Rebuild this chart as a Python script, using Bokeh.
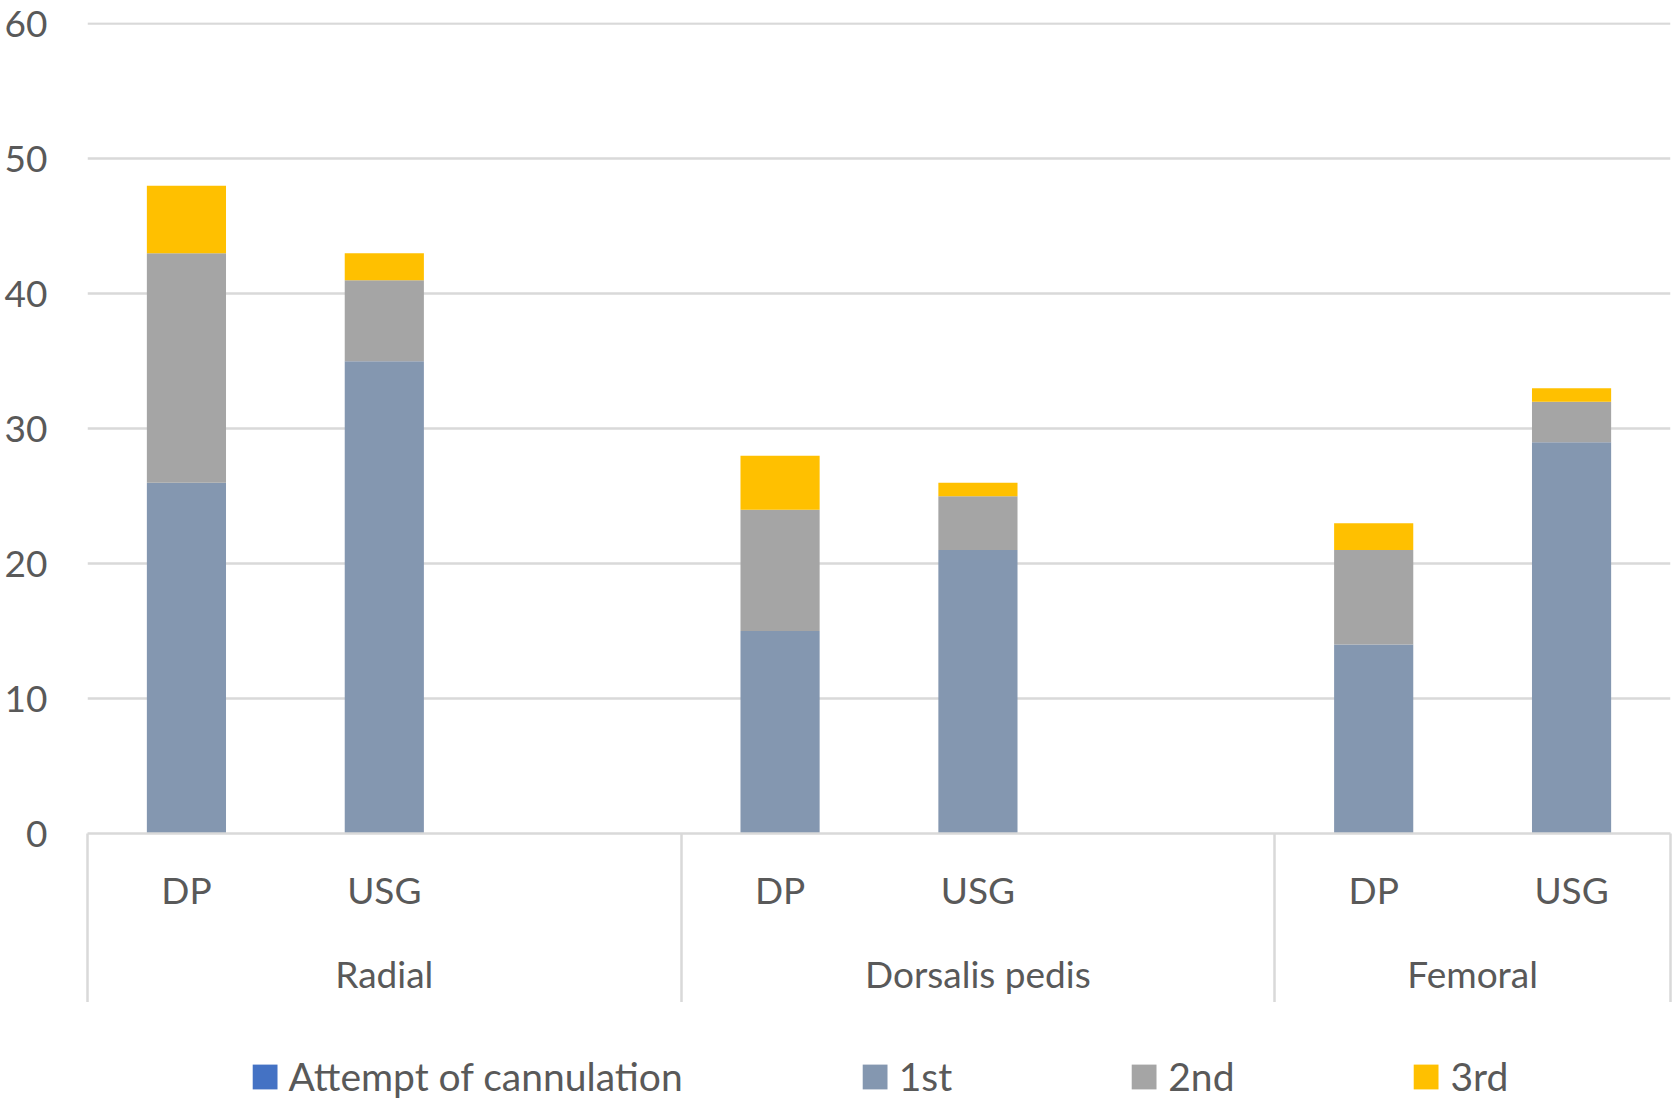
from bokeh.plotting import figure
from bokeh.layouts import column
from bokeh.models import Range1d, LinearAxis, FixedTicker, Legend, LegendItem, ColumnDataSource
from bokeh.embed import file_html
from bokeh.resources import INLINE

# ---- data ----
groups = ["Radial", "Dorsalis pedis", "Femoral"]
group_slots = [3, 3, 2]          # category slots per group (Excel left one blank slot in first two)
methods = ["DP", "USG"]
first_attempt = [26, 35, 15, 21, 14, 29]
second_attempt = [17, 6, 9, 4, 7, 3]
third_attempt = [5, 2, 4, 1, 2, 1]
y_ticks = [0, 10, 20, 30, 40, 50, 60]
series_names = ["Attempt of cannulation", "1st", "2nd", "3rd"]
series_colors = ["#4472C4", "#8497B0", "#A5A5A5", "#FFC000"]

FONT = "Lato"
TXT = "#595959"
GRID = "#D9D9D9"
W = 1675

# ---- category positions derived from the group structure ----
bar_x, bar_labels, group_centers, boundaries = [], [], [], [0]
start = 0
for g, n in zip(groups, group_slots):
    for i, m in enumerate(methods):
        bar_x.append(start + i + 0.5)
        bar_labels.append(m)
    group_centers.append(start + n / 2)
    start += n
    boundaries.append(start)

src = ColumnDataSource(dict(x=bar_x, first=first_attempt, second=second_attempt, third=third_attempt))
stack_cols = ["first", "second", "third"]

p = figure(width=W, height=1002, output_backend="svg", toolbar_location=None,
           x_range=Range1d(0, boundaries[-1]), y_range=Range1d(y_ticks[0], y_ticks[-1] + 0.1),
           x_axis_location=None, min_border_left=87, min_border_right=5,
           min_border_top=22, min_border_bottom=169)
p.outline_line_color = None
p.background_fill_color = "white"
p.border_fill_color = "white"

# stacked bars
p.vbar_stack(stack_cols, x="x", width=0.4, source=src, fill_color=series_colors[1:], line_color=None)

# y axis & grid
p.yaxis.ticker = FixedTicker(ticks=y_ticks)
p.yaxis.axis_line_color = None
p.yaxis.major_tick_line_color = None
p.yaxis.minor_tick_line_color = None
p.yaxis.major_label_standoff = 34
p.yaxis.major_label_text_font = FONT
p.yaxis.major_label_text_font_size = "37px"
p.yaxis.major_label_text_color = TXT
p.ygrid.ticker = FixedTicker(ticks=y_ticks)
p.ygrid.grid_line_color = GRID
p.ygrid.grid_line_width = 2.5
p.xgrid.grid_line_color = None

# x axis: method labels + group separators (minor ticks)
SEP_LEN = 169
axA = LinearAxis(ticker=FixedTicker(ticks=bar_x, minor_ticks=boundaries),
                 major_label_overrides={x: l for x, l in zip(bar_x, bar_labels)})
axA.axis_line_color = GRID
axA.axis_line_width = 2.5
axA.major_tick_line_color = None
axA.major_tick_in = 0
axA.major_tick_out = 0
axA.minor_tick_in = 0
axA.minor_tick_out = SEP_LEN
axA.minor_tick_line_color = GRID
axA.minor_tick_line_width = 2.5
axA.major_label_standoff = 33 - SEP_LEN
axA.major_label_text_font = FONT
axA.major_label_text_font_size = "37px"
axA.major_label_text_color = TXT
p.add_layout(axA, "below")

# group labels
axB = LinearAxis(ticker=FixedTicker(ticks=group_centers, minor_ticks=[]),
                 major_label_overrides={x: g for x, g in zip(group_centers, groups)})
axB.axis_line_color = None
axB.major_tick_line_color = None
axB.minor_tick_line_color = None
axB.major_tick_in = 0
axB.major_tick_out = 0
axB.minor_tick_in = 0
axB.minor_tick_out = 0
axB.major_label_standoff = 36
axB.major_label_text_font = FONT
axB.major_label_text_font_size = "37px"
axB.major_label_text_color = TXT
p.add_layout(axB, "below")

# ---- legend strip (separate small figure below the chart) ----
lg = figure(width=W, height=100, output_backend="svg", toolbar_location=None,
            x_range=Range1d(0, boundaries[-1]), y_range=Range1d(y_ticks[0], y_ticks[-1]),
            x_axis_location=None, y_axis_location=None,
            min_border_left=87, min_border_right=5, min_border_top=48, min_border_bottom=0)
lg.outline_line_color = None
lg.grid.visible = False
lg.background_fill_color = "white"
lg.border_fill_color = "white"

items = []
for name, col, color in zip(series_names, ["first"] + stack_cols, series_colors):
    r = lg.vbar(x="x", top=col, width=0.4, source=src, fill_color=color, line_color=None, visible=False)
    items.append(LegendItem(label=name, renderers=[r]))
legend = Legend(items=items, orientation="horizontal", location="center",
                glyph_width=31, glyph_height=31, label_standoff=9, spacing=176,
                padding=0, margin=0, border_line_color=None, background_fill_alpha=0,
                inactive_fill_alpha=0,
                label_text_font=FONT, label_text_font_size="39px", label_text_color=TXT)
lg.add_layout(legend)

open("out.html", "w").write(file_html(column(p, lg, spacing=0), INLINE))
